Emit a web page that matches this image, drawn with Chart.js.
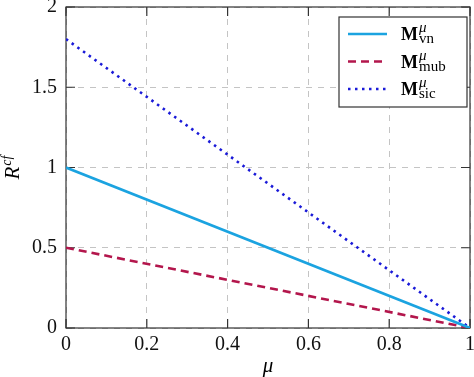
<!DOCTYPE html>
<html>
<head>
<meta charset="utf-8">
<script src="https://cdn.jsdelivr.net/npm/chart.js@4"></script>
<style>
  html, body { margin: 0; padding: 0; background: #fff; }
  #wrap { width: 474px; height: 377px; }
</style>
</head>
<body>
<div id="wrap"><canvas id="myChart" width="474" height="377"></canvas></div>
<script>
// values
const muValues = [0, 1];
const vnValues = [1, 0];
const mubValues = [0.5, 0];
const sicValues = [1.8, 0];
const legendNames = [
  { base: 'M', sup: 'μ', sub: 'vn' },
  { base: 'M', sup: 'μ', sub: 'mub' },
  { base: 'M', sup: 'μ', sub: 'sic' },
];
const colors = ['#1ba3e0', '#b3164c', '#1a1ad8'];
const dashes = [[], [8, 5], [2.5, 4.5]];

const SERIF = '"Liberation Serif", "DejaVu Serif", serif';

const toPoints = (ys) => ys.map((y, i) => ({ x: muValues[i], y: y }));

const frame = {
  id: 'frame',
  beforeDatasetsDraw(chart) {
    const { ctx, chartArea: a, scales } = chart;
    ctx.save();
    ctx.strokeStyle = '#333';
    ctx.lineWidth = 1.2;
    const t = 9;
    ctx.beginPath();
    scales.x.ticks.forEach((tk) => {
      const px = scales.x.getPixelForValue(tk.value);
      ctx.moveTo(px, a.bottom); ctx.lineTo(px, a.bottom - t);
      ctx.moveTo(px, a.top); ctx.lineTo(px, a.top + t);
    });
    scales.y.ticks.forEach((tk) => {
      const py = scales.y.getPixelForValue(tk.value);
      ctx.moveTo(a.left, py); ctx.lineTo(a.left + t, py);
      ctx.moveTo(a.right, py); ctx.lineTo(a.right - t, py);
    });
    ctx.stroke();
    ctx.strokeRect(a.left, a.top, a.right - a.left, a.bottom - a.top);
    ctx.restore();
  },
  afterDraw(chart) {
    const { ctx, chartArea: a } = chart;
    ctx.save();
    ctx.fillStyle = '#000';
    // x title
    ctx.font = 'italic 21px ' + SERIF;
    ctx.textAlign = 'center';
    ctx.textBaseline = 'alphabetic';
    ctx.fillText('μ', (a.left + a.right) / 2, 372);
    // y title with superscript
    ctx.save();
    ctx.translate(19, (a.top + a.bottom) / 2);
    ctx.rotate(-Math.PI / 2);
    ctx.font = 'italic 21px ' + SERIF;
    const rw = ctx.measureText('R').width;
    ctx.font = 'italic 14px ' + SERIF;
    const cw = ctx.measureText('cf').width;
    const x0 = -(rw + cw + 1) / 2;
    ctx.textAlign = 'left';
    ctx.font = 'italic 21px ' + SERIF;
    ctx.fillText('R', x0, 0);
    ctx.font = 'italic 14px ' + SERIF;
    ctx.fillText('cf', x0 + rw + 1, -8);
    ctx.restore();

    // legend
    const bx = 339, by = 17, bw = 128, bh = 90;
    ctx.fillStyle = '#fff';
    ctx.fillRect(bx, by, bw, bh);
    ctx.strokeStyle = '#333';
    ctx.lineWidth = 1.2;
    ctx.strokeRect(bx, by, bw, bh);
    chart.data.datasets.forEach((ds, i) => {
      const cy = 34 + i * 27.5;
      ctx.save();
      ctx.strokeStyle = ds.borderColor;
      ctx.lineWidth = ds.borderWidth;
      ctx.setLineDash(ds.borderDash || []);
      ctx.beginPath();
      ctx.moveTo(348, cy); ctx.lineTo(387, cy);
      ctx.stroke();
      ctx.restore();
      const nm = legendNames[i];
      ctx.fillStyle = '#000';
      ctx.textAlign = 'left';
      ctx.font = 'bold 18px ' + SERIF;
      ctx.fillText(nm.base, 401, cy + 6);
      const mw = ctx.measureText(nm.base).width;
      ctx.font = 'italic 15px ' + SERIF;
      ctx.fillText(nm.sup, 401 + mw + 1, cy - 2);
      ctx.font = '15px ' + SERIF;
      ctx.fillText(nm.sub, 401 + mw + 1, cy + 9);
    });
    ctx.restore();
  },
};

const draw = () => {
  const data = {
    datasets: [vnValues, mubValues, sicValues].map((ys, i) => ({
      label: ['vn', 'mub', 'sic'][i],
      data: toPoints(ys),
      showLine: true,
      borderColor: colors[i],
      backgroundColor: colors[i],
      borderWidth: 2.6,
      borderDash: dashes[i],
      pointRadius: 0,
    })),
  };

  const ctx = document.getElementById('myChart').getContext('2d');
  new Chart(ctx, {
    type: 'scatter',
    data: data,
    plugins: [frame],
    options: {
      responsive: false,
      animation: false,
      layout: { padding: { top: 7, right: 4, left: 0, bottom: 0 } },
      plugins: { legend: { display: false }, tooltip: { enabled: false } },
      scales: {
        x: {
          type: 'linear', min: 0, max: 1,
          ticks: {
            stepSize: 0.2, padding: 5, color: '#111',
            font: { family: SERIF, size: 20 },
            callback: (v) => String(+v.toFixed(1)),
          },
          grid: { color: '#c4c4c4', drawTicks: false },
          border: { display: false, dash: [6, 6] },
          afterFit: (s) => { s.height = 49; s.paddingLeft = 0; s.paddingRight = 0; },
        },
        y: {
          type: 'linear', min: 0, max: 2,
          ticks: {
            stepSize: 0.5, padding: 9, color: '#111',
            font: { family: SERIF, size: 20 },
            callback: (v) => String(+v.toFixed(1)),
          },
          grid: { color: '#c4c4c4', drawTicks: false },
          border: { display: false, dash: [6, 6] },
          afterFit: (s) => { s.width = 66; s.paddingTop = 0; s.paddingBottom = 0; },
        },
      },
    },
  });
};

window.onload = () => { draw(); };
</script>
</body>
</html>
